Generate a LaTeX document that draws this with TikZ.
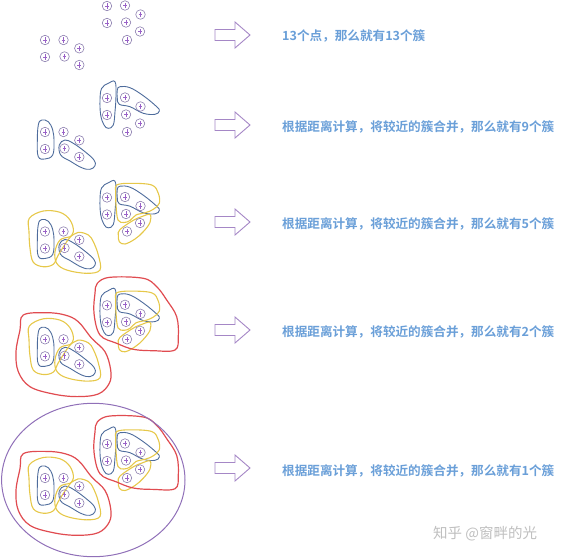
\documentclass[tikz,border=0pt]{standalone}
\usepackage{fontspec}
\newfontfamily\cjk{Noto Sans CJK SC}[BoldFont={Noto Sans CJK SC Bold}]
\definecolor{ptdraw}{HTML}{8C7FAF}
\definecolor{ptplus}{HTML}{9A62C8}
\definecolor{bluec}{HTML}{4E6C9C}
\definecolor{yellowc}{HTML}{E6C84A}
\definecolor{redc}{HTML}{E04B50}
\definecolor{purplec}{HTML}{9070B8}
\definecolor{arrowc}{HTML}{A587C6}
\definecolor{textc}{HTML}{6A9FD8}
\tikzset{
  pt/.style={circle, draw=ptdraw, line width=0.6pt, minimum size=9.5pt, inner sep=0pt,
    path picture={\draw[ptplus, line width=0.7pt]
      ([yshift=-2.7pt]path picture bounding box.center) -- ([yshift=2.7pt]path picture bounding box.center)
      ([xshift=-1.9pt]path picture bounding box.center) -- ([xshift=1.9pt]path picture bounding box.center);}},
  bl/.style={draw=bluec, line width=0.9pt},
  yl/.style={draw=yellowc, line width=1.1pt},
  rd/.style={draw=redc, line width=1.2pt},
  arr/.style={draw=arrowc, line width=0.9pt},
  txt/.style={text=textc, anchor=west, inner sep=0pt, font=\cjk\bfseries\fontsize{12.6}{14}\selectfont},
  rarrow/.pic={\draw[arr] (-17.5,-5.5) -- (2.5,-5.5) -- (2.5,-13) -- (17.5,0) -- (2.5,13) -- (2.5,5.5) -- (-17.5,5.5) -- cycle;}
}
\newcommand\PointSet[1]{%
  \foreach \n/\x/\y in {R1/107/6, R2/125/5.5, R3/140.5/14.5, R4/107/23, R5/126/22.5, R6/140/31.5, R7/127/40,
                        L1/45/40, L2/63.5/40, L3/79.3/48.3, L4/45/57, L5/64.5/56.5, L6/79.3/65}
    {\node[pt] (#1\n) at (\x,\y) {};}}
\newcommand\BlueSet{%
  \draw[bl] plot[smooth cycle, tension=0.65] coordinates {(101.7,-3.7) (108.3,-8.7) (115,-10.3) (116,3) (115,19.7) (113.3,33) (108.3,36.3) (104,33) (100.7,23) (100,8)};
  \draw[bl] plot[smooth cycle, tension=0.65] coordinates {(117.3,-2) (120,-5.3) (130,-4.3) (143.3,3.7) (156.7,14.7) (159.3,19) (155,22.3) (143.3,21.3) (130,14.7) (119.3,12.3) (117.3,6.3)};
  \draw[bl] plot[smooth cycle, tension=0.65] coordinates {(41.7,28) (48.3,29.7) (52.7,38) (54,49.7) (52.7,63) (45,67) (38.3,64.7) (37.3,49.7) (38.3,33)};
  \draw[bl] plot[smooth cycle, tension=0.65] coordinates {(59.3,53) (65,48) (73.3,51.3) (85,59.7) (94,68) (95,73.7) (90,77.3) (81.7,75.7) (70,69) (60.7,63)};
}
\newcommand\YellowSet{%
  \draw[yl] plot[smooth cycle, tension=0.6] coordinates {(116.7,-6.5) (130,-8.2) (151.7,-6.5) (158.3,1.8) (159.3,11.8) (153.3,17.8) (146,21) (136,23.5) (130,29) (124,31) (118,28.5) (116,13.5) (115.7,0.2)};
  \draw[yl] plot[smooth cycle, tension=0.6] coordinates {(120,38) (133,29) (142,25) (150,23) (150,31) (143.3,40.2) (135,47.5) (125,52.5) (119.3,50.2) (118.3,43.5)};
  \draw[yl] plot[smooth cycle, tension=0.6] coordinates {(29.3,26.8) (43.3,19.5) (60,20.8) (70,28.5) (73.3,40.2) (66.7,50.2) (58.3,63.5) (53.3,72.8) (43.3,75.2) (33.3,70.8) (30,56.8) (29,40.2)};
  \draw[yl] plot[smooth cycle, tension=0.6] coordinates {(60,48.5) (70,45.2) (78.3,40.8) (88.3,43.5) (93.3,50.2) (98.3,63.5) (100,78.5) (86.7,81.8) (66.7,78.5) (56.7,71.8) (55,60.2)};
}
\newcommand\RedSet{%
  \draw[rd] plot[smooth cycle, tension=0.6] coordinates {(97.3,-16) (110,-22) (143.3,-21) (156.7,-12.6) (166.7,0.7) (176.7,17.4) (178.3,37.4) (175,50.7) (153.3,51.4) (133.3,50) (116.7,44) (100,35.7) (94,14) (95,-6)};
  \draw[rd] plot[smooth cycle, tension=0.6] coordinates {(23.3,15.7) (46.7,13.4) (65,15.7) (78.3,22.4) (91.7,39) (105,52.4) (110.7,70.7) (109.3,84) (98.3,94.7) (76.7,97.3) (53.3,94.7) (30,87.4) (18.3,72.4) (16,52.4) (20,30.7)};
}
\begin{document}
\begin{tikzpicture}[x=1pt, y=-1pt]
\useasboundingbox (0,0) rectangle (568,558);
% stage 1
\begin{scope}[shift={(0,0)}]
  \PointSet{a}
\end{scope}
% stage 2
\begin{scope}[shift={(0,92)}]
  \BlueSet
  \PointSet{b}
\end{scope}
% stage 3
\begin{scope}[shift={(0,191.5)}]
  \BlueSet \YellowSet
  \PointSet{c}
\end{scope}
% stage 4
\begin{scope}[shift={(0,299.3)}]
  \BlueSet \YellowSet \RedSet
  \PointSet{d}
\end{scope}
% stage 5
\begin{scope}[shift={(0,438)}]
  \BlueSet \YellowSet \RedSet
  \PointSet{e}
\end{scope}
\draw[draw=purplec, line width=1pt] (93.3,480) ellipse [x radius=91.7pt, y radius=76.7pt];
% arrows
\pic at (232.5,35) {rarrow};
\pic at (232.5,125) {rarrow};
\pic at (232.5,222) {rarrow};
\pic at (232.5,330) {rarrow};
\pic at (232.5,468) {rarrow};
% texts
\node[txt] (t1) at (282,36) {13个点，那么就有13个簇};
\node[txt] (t2) at (282,127) {根据距离计算，将较近的簇合并，那么就有9个簇};
\node[txt] (t3) at (282,224) {根据距离计算，将较近的簇合并，那么就有5个簇};
\node[txt] (t4) at (282,332) {根据距离计算，将较近的簇合并，那么就有2个簇};
\node[txt] (t5) at (282,471) {根据距离计算，将较近的簇合并，那么就有1个簇};
\node[text=black!25, anchor=west, inner sep=0pt, font=\cjk\fontsize{14.5}{16}\selectfont] (wm) at (433,534) {知乎 @窗畔的光};
\end{tikzpicture}
\end{document}
